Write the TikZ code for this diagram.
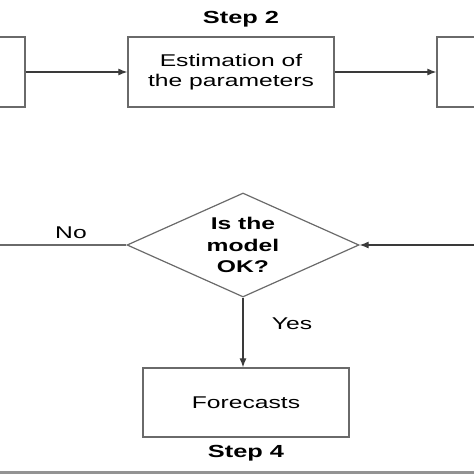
\documentclass[tikz,border=0pt]{standalone}
\usepackage{fontspec}
\setmainfont{Liberation Sans}[FakeStretch=1.45]
\usetikzlibrary{arrows.meta,shapes.geometric}
\definecolor{boxline}{HTML}{6A6A6A}
\definecolor{arrline}{HTML}{3A3A3A}
\begin{document}
\begin{tikzpicture}[x=1pt,y=-1pt,
  stepbox/.style={draw=boxline,line width=1.3pt,minimum width=206pt,minimum height=70pt,inner sep=0pt,align=center,
    font=\fontsize{17}{20}\selectfont},
  decision/.style={draw=boxline,line width=1.2pt,diamond,aspect=2.23,minimum width=232pt,minimum height=104pt,inner sep=0pt,align=center,
    font=\fontsize{17}{21.5}\selectfont\bfseries},
  steplabel/.style={font=\fontsize{17.5}{20}\selectfont\bfseries},
  plainlabel/.style={font=\fontsize{17}{20}\selectfont},
  conn/.style={draw=arrline,line width=1.2pt,-{Latex[length=9pt,width=7pt]}},
  plainconn/.style={draw=boxline,line width=1.3pt}]
\useasboundingbox (0,0) rectangle (474,474);
\clip (0,0) rectangle (474,474);
\node[stepbox] (left) at (-78,72) {};
\node[stepbox] (mid) at (231,72) {Estimation of\\the parameters};
\node[stepbox] (right) at (540,72) {};
\node[steplabel] (s2) at (241,19.5) {Step 2};
\node[decision] (dec) at (243,245) {Is the\\model\\OK?};
\node[stepbox,minimum height=69pt] (fc) at (246,402.5) {Forecasts};
\node[steplabel] (s4) at (246,453) {Step 4};
\node[plainlabel] (no) at (71,233) {No};
\node[plainlabel] (yes) at (292,323.5) {Yes};
\coordinate (lout) at (-5,245);
\coordinate (rin) at (480,245);
\draw[conn] (left.east) -- (mid.west);
\draw[conn] (mid.east) -- (right.west);
\draw[conn] (rin) -- (dec.east);
\draw[plainconn] (dec.west) -- (lout);
\draw[conn] (dec.south) -- (dec.south |- fc.north);
\coordinate (bl) at (-5,472.5);
\coordinate (br) at (480,472.5);
\draw[draw=gray!85,line width=3pt] (bl) -- (br);
\end{tikzpicture}
\end{document}
